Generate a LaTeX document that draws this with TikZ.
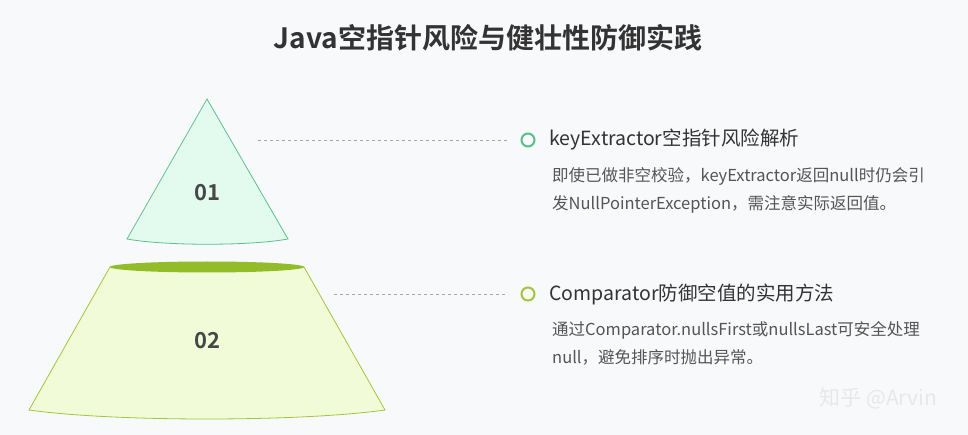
\documentclass[tikz,border=0pt]{standalone}
\usepackage{fontspec}
\setmainfont{Noto Sans CJK SC}
\newfontfamily\cjkb{Noto Sans CJK SC Bold}
\definecolor{bg}{HTML}{F8F9FB}
\definecolor{tfill}{HTML}{E3FAEE}
\definecolor{tline}{HTML}{5CC08C}
\definecolor{pfill}{HTML}{F2FBD8}
\definecolor{pline}{HTML}{A5C43C}
\definecolor{ptop}{HTML}{93BC2A}
\definecolor{txt}{HTML}{333333}
\definecolor{desc}{HTML}{555555}
\begin{document}
\begin{tikzpicture}[x=1pt,y=-1pt,
  dash line/.style={draw=gray!70,dashed,line width=0.8pt},
  head/.style={anchor=west,font=\fontsize{19.5}{22}\selectfont,text=txt},
  body/.style={anchor=west,font=\fontsize{16.5}{28}\selectfont,text=desc,align=left,inner sep=0pt},
  num/.style={font=\cjkb\fontsize{22}{24}\selectfont,text=txt!90},
  dot/.style={circle,line width=2pt,minimum size=13pt,inner sep=0pt}]
\fill[bg] (0,0) rectangle (968,435);
\node[font=\cjkb\fontsize{28}{30}\selectfont,text=txt] (title) at (488,38) {Java空指针风险与健壮性防御实践};
% triangle
\draw[tline,fill=tfill,line width=0.8pt] (207,99) -- (288,239) .. controls (250,246) and (165,246) .. (127,239) -- cycle;
\node[num] (n1) at (207,193) {01};
% trapezoid
\draw[pline,fill=pfill,line width=0.8pt] (110,267) -- (304,267) -- (385,410) .. controls (300,422) and (114,422) .. (29,410) -- cycle;
\fill[ptop] (207,267) ellipse [x radius=97, y radius=5.5];
\node[num] (n2) at (207,341) {02};
% connectors
\coordinate (d1) at (258,140);
\coordinate (d2) at (334,294);
\node[dot,draw=tline] (c1) at (528,140) {};
\node[dot,draw=pline] (c2) at (528,294) {};
\draw[dash line] (d1) -- ([xshift=-20pt]c1.center);
\draw[dash line] (d2) -- ([xshift=-20pt]c2.center);
\node[head] (h1) at (546,140) {keyExtractor空指针风险解析};
\node[head] (h2) at (546,294) {Comparator防御空值的实用方法};
\node[body] (b1) at (552,190) {即使已做非空校验，keyExtractor返回null时仍会引\\发NullPointerException，需注意实际返回值。};
\node[body] (b2) at (552,343) {通过Comparator.nullsFirst或nullsLast可安全处理\\null，避免排序时抛出异常。};
\node[anchor=west,font=\fontsize{21}{23}\selectfont,text=white!82!gray] (wm) at (816,398) {知乎 @Arvin};
\end{tikzpicture}
\end{document}
